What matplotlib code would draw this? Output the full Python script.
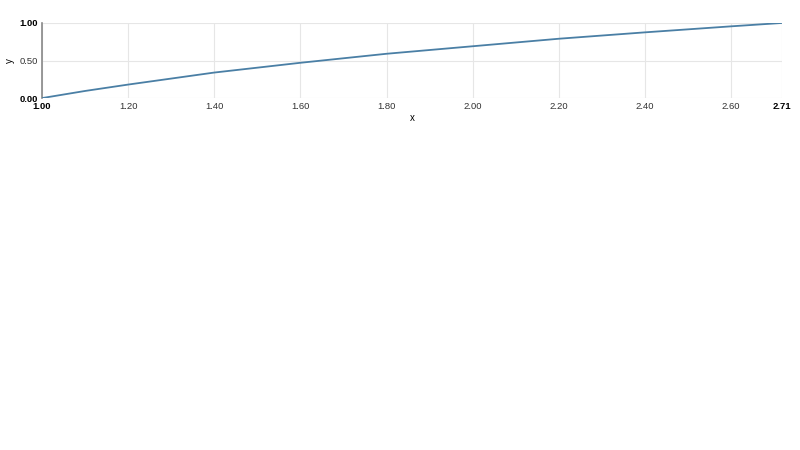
import matplotlib.pyplot as plt

# valores
x_vals = [1.0, 1.1, 1.2, 1.3, 1.4, 1.5, 1.6, 1.7, 1.8, 1.9, 2.0, 2.2, 2.4, 2.6, 2.718]
y_vals = [0.0, 0.095, 0.18, 0.26, 0.34, 0.405, 0.47, 0.53, 0.59, 0.64, 0.69, 0.79, 0.875, 0.955, 1.0]
x_ticks = [1.0, 1.2, 1.4, 1.6, 1.8, 2.0, 2.2, 2.4, 2.6, 2.718]
x_labels = ['1.00', '1.20', '1.40', '1.60', '1.80', '2.00', '2.20', '2.40', '2.60', '2.71']
y_ticks = [0.0, 0.5, 1.0]
y_labels = ['0.00', '0.50', '1.00']

plt.rcParams['font.family'] = ['Liberation Sans', 'DejaVu Sans']

fig = plt.figure(figsize=(8, 4.5), dpi=100)
ax = fig.add_axes([0.0525, 0.782, 0.925, 0.167])

ax.plot(x_vals, y_vals, color='#4a7fa5', linewidth=1.3, zorder=3)

ax.set_xlim(1.0, 2.718)
ax.set_ylim(0, 1.0)
ax.set_xticks(x_ticks)
ax.set_xticklabels(x_labels, fontsize=6.8, color='#333333')
ax.set_yticks(y_ticks)
ax.set_yticklabels(y_labels, fontsize=6.8, color='#333333')
for i in (0, -1):
    ax.get_xticklabels()[i].set_fontweight('bold')
    ax.get_xticklabels()[i].set_color('black')
    ax.get_yticklabels()[i].set_fontweight('bold')
    ax.get_yticklabels()[i].set_color('black')

ax.tick_params(axis='x', length=0, pad=3)
ax.tick_params(axis='y', length=0, pad=3)
ax.grid(True, color='#e6e6e6', linewidth=0.8)
for s in ('top', 'right', 'bottom'):
    ax.spines[s].set_visible(False)
ax.spines['left'].set_color('#888888')
ax.spines['left'].set_linewidth(1.2)

ax.set_xlabel('x', fontsize=7, labelpad=1)
ax.set_ylabel('y', fontsize=7)
ax.yaxis.set_label_coords(-0.036, 0.5)

fig.savefig('out.png', dpi=100)
